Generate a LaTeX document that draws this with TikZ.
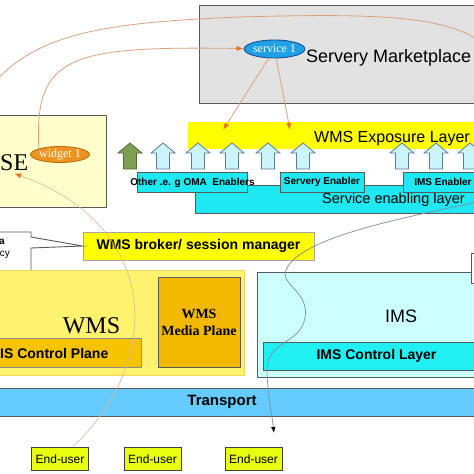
\documentclass[tikz,border=0pt]{standalone}
\usepackage{fontspec}
\setmainfont{Liberation Serif}
\setsansfont{Liberation Sans}
\usetikzlibrary{shapes.geometric,arrows.meta}
\definecolor{mkgray}{HTML}{E2E2E2}
\definecolor{svcblue}{HTML}{1FA0E6}
\definecolor{svcedge}{HTML}{1B4F9C}
\definecolor{paleyel}{HTML}{FFFFCC}
\definecolor{wdgorange}{HTML}{EC9420}
\definecolor{wdgedge}{HTML}{C46A10}
\definecolor{brightyel}{HTML}{FFFF00}
\definecolor{arrcyan}{HTML}{CCF4FB}
\definecolor{arredge}{HTML}{5A7E9A}
\definecolor{arrgreen}{HTML}{7FA052}
\definecolor{grnedge}{HTML}{4F6F32}
\definecolor{enbcyan}{HTML}{1EE8F2}
\definecolor{wmsyel}{HTML}{FFF26E}
\definecolor{wmsedge}{HTML}{F0D860}
\definecolor{cpgold}{HTML}{F6C300}
\definecolor{mpgold}{HTML}{F3B900}
\definecolor{imscyan}{HTML}{CCFFFF}
\definecolor{ctlcyan}{HTML}{20F0F2}
\definecolor{trblue}{HTML}{66CCFF}
\definecolor{euyel}{HTML}{E8FF10}
\definecolor{linkorange}{HTML}{DCA07A}
\definecolor{tiporange}{HTML}{E8731E}
\definecolor{wiregray}{HTML}{7F8C99}

\begin{document}
\begin{tikzpicture}[x=1pt, y=-1pt,
  box/.style={draw=black!65, line width=.9pt, inner sep=0pt},
  sans/.style={font=\sffamily\fontsize{#1}{#1}\selectfont},
  bsans/.style={font=\sffamily\bfseries\fontsize{#1}{#1}\selectfont},
  serif/.style={font=\rmfamily\fontsize{#1}{#1}\selectfont},
  link/.style={draw=linkorange, line width=.8pt},
  otip/.style={arrows={-Latex[length=7pt,width=5pt,color=tiporange]}},
  eubox/.style={box, draw=black!75, fill=euyel, minimum width=57, minimum height=23, sans=12}]
\useasboundingbox (0,0) rectangle (474,474);
\clip (0,0) rectangle (474,474);
\fill[white] (0,0) rectangle (474,474);
% marketplace
\node[box, fill=mkgray, minimum width=291, minimum height=98] (market) at (344.5,54) {};
\node[sans=18, anchor=base west, inner sep=0] (mktext) at (306,62) {Servery Marketplace};
\node[ellipse, draw=svcedge, fill=svcblue, line width=.9pt, minimum width=59, minimum height=18, inner sep=0, serif=12, text=white] (service) at (274.5,49) {service 1};
\coordinate (offl) at (-5,82);
\coordinate (offr) at (485,45);
\draw[link] (offl) .. controls (40,30) and (120,22) .. (240,17) .. controls (380,13) and (450,16) .. (offr);
% widget side
\node[box, fill=paleyel, minimum width=116, minimum height=92] (wsebox) at (48,161) {};
\node[serif=24, anchor=base west, inner sep=3pt] (se) at (-3,170) {SE};
\node[ellipse, draw=wdgedge, fill=wdgorange, line width=.9pt, minimum width=58, minimum height=16, inner sep=0, serif=12, text=white] (widget) at (60,154.5) {widget 1};
\draw[link, otip] (widget.north west) .. controls (34,55) and (70,46) .. (service);
% exposure layer
\node[fill=brightyel, minimum width=302, minimum height=27, inner sep=0] (expo) at (339,135) {};
\node[sans=16, anchor=base west, inner sep=0] (expotext) at (314,142) {WMS Exposure Layer};
\draw[draw=grnedge, fill=arrgreen, line width=.8pt] (130,143) -- (142,153) -- (136.5,153) -- (136.5,169) -- (123.5,169) -- (123.5,153) -- (118,153) -- cycle;
\foreach \x in {163,198,232,268,303,402,436,470}
  \draw[draw=arredge, fill=arrcyan, line width=.8pt] (\x,143) -- (\x+12,153) -- (\x+6.5,153) -- (\x+6.5,169) -- (\x-6.5,169) -- (\x-6.5,153) -- (\x-12,153) -- cycle;
\coordinate (e1) at (223,130);
\coordinate (e2) at (290,130);
\draw[link, otip] (service) -- (e1);
\draw[link, otip] (service) -- (e2);
% enabling layer
\node[box, fill=enbcyan, minimum width=295, minimum height=28] (sel) at (342.5,199) {};
\node[sans=14.5, anchor=base west, inner sep=0] (seltext) at (322,203) {Service enabling layer};
\node[box, fill=enbcyan, minimum width=110, minimum height=20] (oma) at (192,182) {};
\node[bsans=10, inner sep=0] (omatext) at (192.5,183) {Other .e. g OMA\ \ Enablers};
\node[box, fill=enbcyan, minimum width=84, minimum height=20, bsans=10] (servenb) at (322,182) {Servery Enabler};
\node[box, fill=enbcyan, minimum width=80, minimum height=20, bsans=10] (imsenb) at (443,182) {IMS Enabler};
% broker
\node[fill=brightyel, draw=black!35, line width=.9pt, minimum width=231, minimum height=28, inner sep=0, bsans=14] (broker) at (198.5,246) {WMS broker/ session manager};
\draw[box, fill=white] (-10,232) -- (31,232) -- (31,237) -- (broker.west) -- (31,248) -- (31,272) -- (-10,272) -- cycle;
\node[bsans=10, anchor=base east, inner sep=0] (clA) at (5,244) {a};
\node[sans=10, anchor=base east, inner sep=0] (clB) at (10,256) {cy};
% WMS
\node[fill=wmsyel, draw=wmsedge, line width=.9pt, minimum width=254, minimum height=105, inner sep=0] (wms) at (117,322.5) {};
\node[serif=24, anchor=base, inner sep=0] (wmstext) at (91.5,333) {WMS};
\node[box, fill=cpgold, draw=black!45, minimum width=151, minimum height=29] (wmscp) at (65.5,352.5) {};
\node[bsans=14, anchor=base west, inner sep=0] (cptext) at (0,358) {IS Control Plane};
\node[box, fill=mpgold, minimum width=82, minimum height=90, align=center, font=\rmfamily\bfseries\fontsize{14}{17}\selectfont] (media) at (199,322.5) {WMS\\Media Plane};
% IMS
\node[box, fill=imscyan, minimum width=233, minimum height=105] (ims) at (373.5,324.5) {};
\node[sans=18, anchor=base, inner sep=0] (imstext) at (401,322) {IMS};
\node[box, fill=ctlcyan, minimum width=227, minimum height=28, bsans=14] (imscl) at (376.5,356) {IMS Control Layer};
\node[box, fill=white, minimum width=20, minimum height=30] (sidebox) at (481,268) {};
% transport and users
\node[box, fill=trblue, minimum width=532, minimum height=28, bsans=15] (transport) at (222,402) {Transport};
\node[eubox] (eu1) at (60,459) {End-user};
\node[eubox] (eu2) at (152.5,459) {End-user};
\node[eubox] (eu3) at (253.5,459) {End-user};
\draw[draw=linkorange!80, line width=.6pt, otip] (eu1) .. controls (165,360) and (160,225) .. (se.south);
\coordinate (usr) at (274,433);
\draw[draw=wiregray, line width=.7pt, arrows={-Latex[length=6pt,width=4.5pt,color=black]}] (sel.east) .. controls (420,215) and (300,235) .. (286,270) .. controls (280,285) and (310,292) .. (305,318) .. controls (300,345) and (266,340) .. (267,372) .. controls (268,400) and (272,415) .. (usr);
\end{tikzpicture}
\end{document}
